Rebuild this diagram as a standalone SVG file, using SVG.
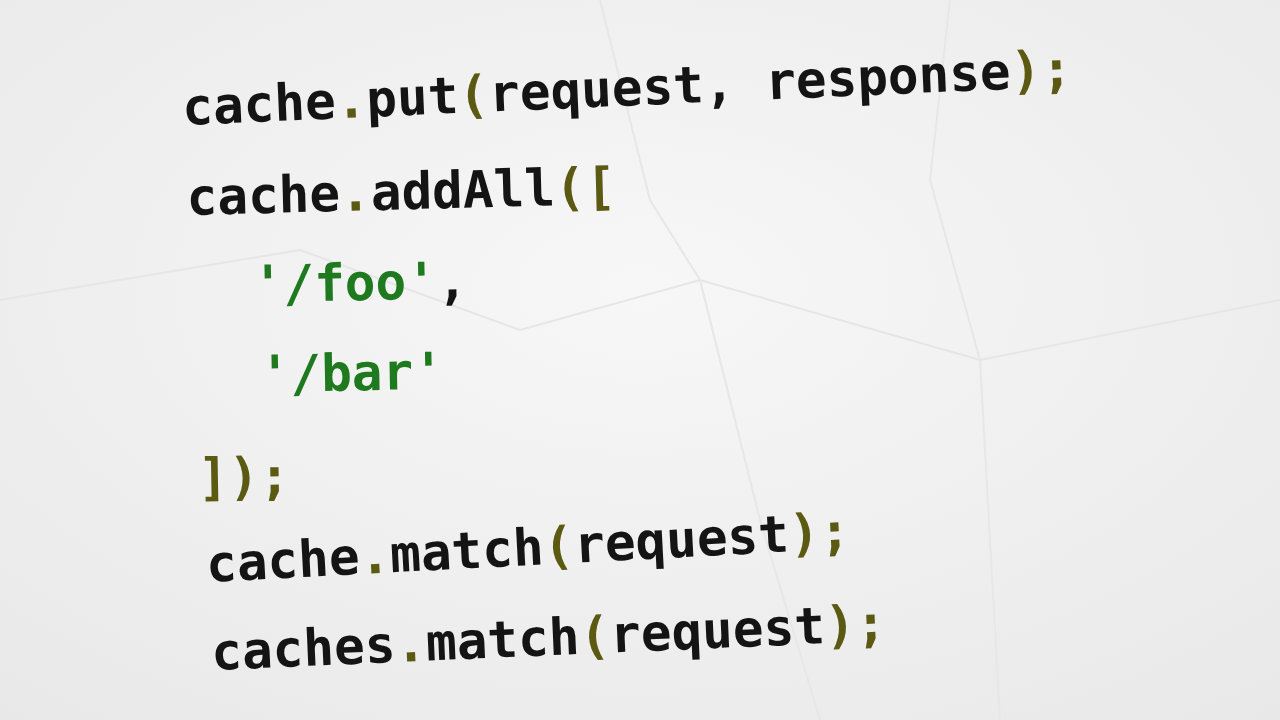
<svg xmlns="http://www.w3.org/2000/svg" width="1280" height="720" viewBox="0 0 1280 720">
<defs>
<radialGradient id="bg" cx="0.5" cy="0.4" r="0.8">
<stop offset="0" stop-color="#f7f7f7"/>
<stop offset="1" stop-color="#e8e8e8"/>
</radialGradient>
<style>
.c{font-family:"DejaVu Sans Mono","Liberation Mono",monospace;font-size:51px;font-weight:bold;fill:#141414}
.p{fill:#5c5a12}
.s{fill:#1f7a1f}
</style>
</defs>
<rect width="1280" height="720" fill="url(#bg)"/>
<path d="M0 300 L300 250 L520 330 L700 280 L980 360 L1280 300" fill="none" stroke="#e6e6e6" stroke-width="2"/>
<path d="M600 0 L650 200 L700 280 L760 520 L820 720" fill="none" stroke="#e7e7e7" stroke-width="2"/>
<path d="M950 0 L930 180 L980 360 L1000 720" fill="none" stroke="#e7e7e7" stroke-width="2"/>
<text class="c" transform="translate(183,125) rotate(-2.5)">cache<tspan class="p">.</tspan>put<tspan class="p">(</tspan>request, response<tspan class="p">);</tspan></text>
<text class="c" transform="translate(187,215) rotate(-1.5)">cache<tspan class="p">.</tspan>addAll<tspan class="p">([</tspan></text>
<text class="c" transform="translate(253,302) rotate(-1)"><tspan class="s">'/foo'</tspan>,</text>
<text class="c" transform="translate(260,392) rotate(-1)"><tspan class="s">'/bar'</tspan></text>
<text class="c p" transform="translate(198,495) rotate(-1)">]);</text>
<text class="c" transform="translate(207,582) rotate(-3)">cache<tspan class="p">.</tspan>match<tspan class="p">(</tspan>request<tspan class="p">);</tspan></text>
<text class="c" transform="translate(212,670) rotate(-2.5)">caches<tspan class="p">.</tspan>match<tspan class="p">(</tspan>request<tspan class="p">);</tspan></text>
</svg>
